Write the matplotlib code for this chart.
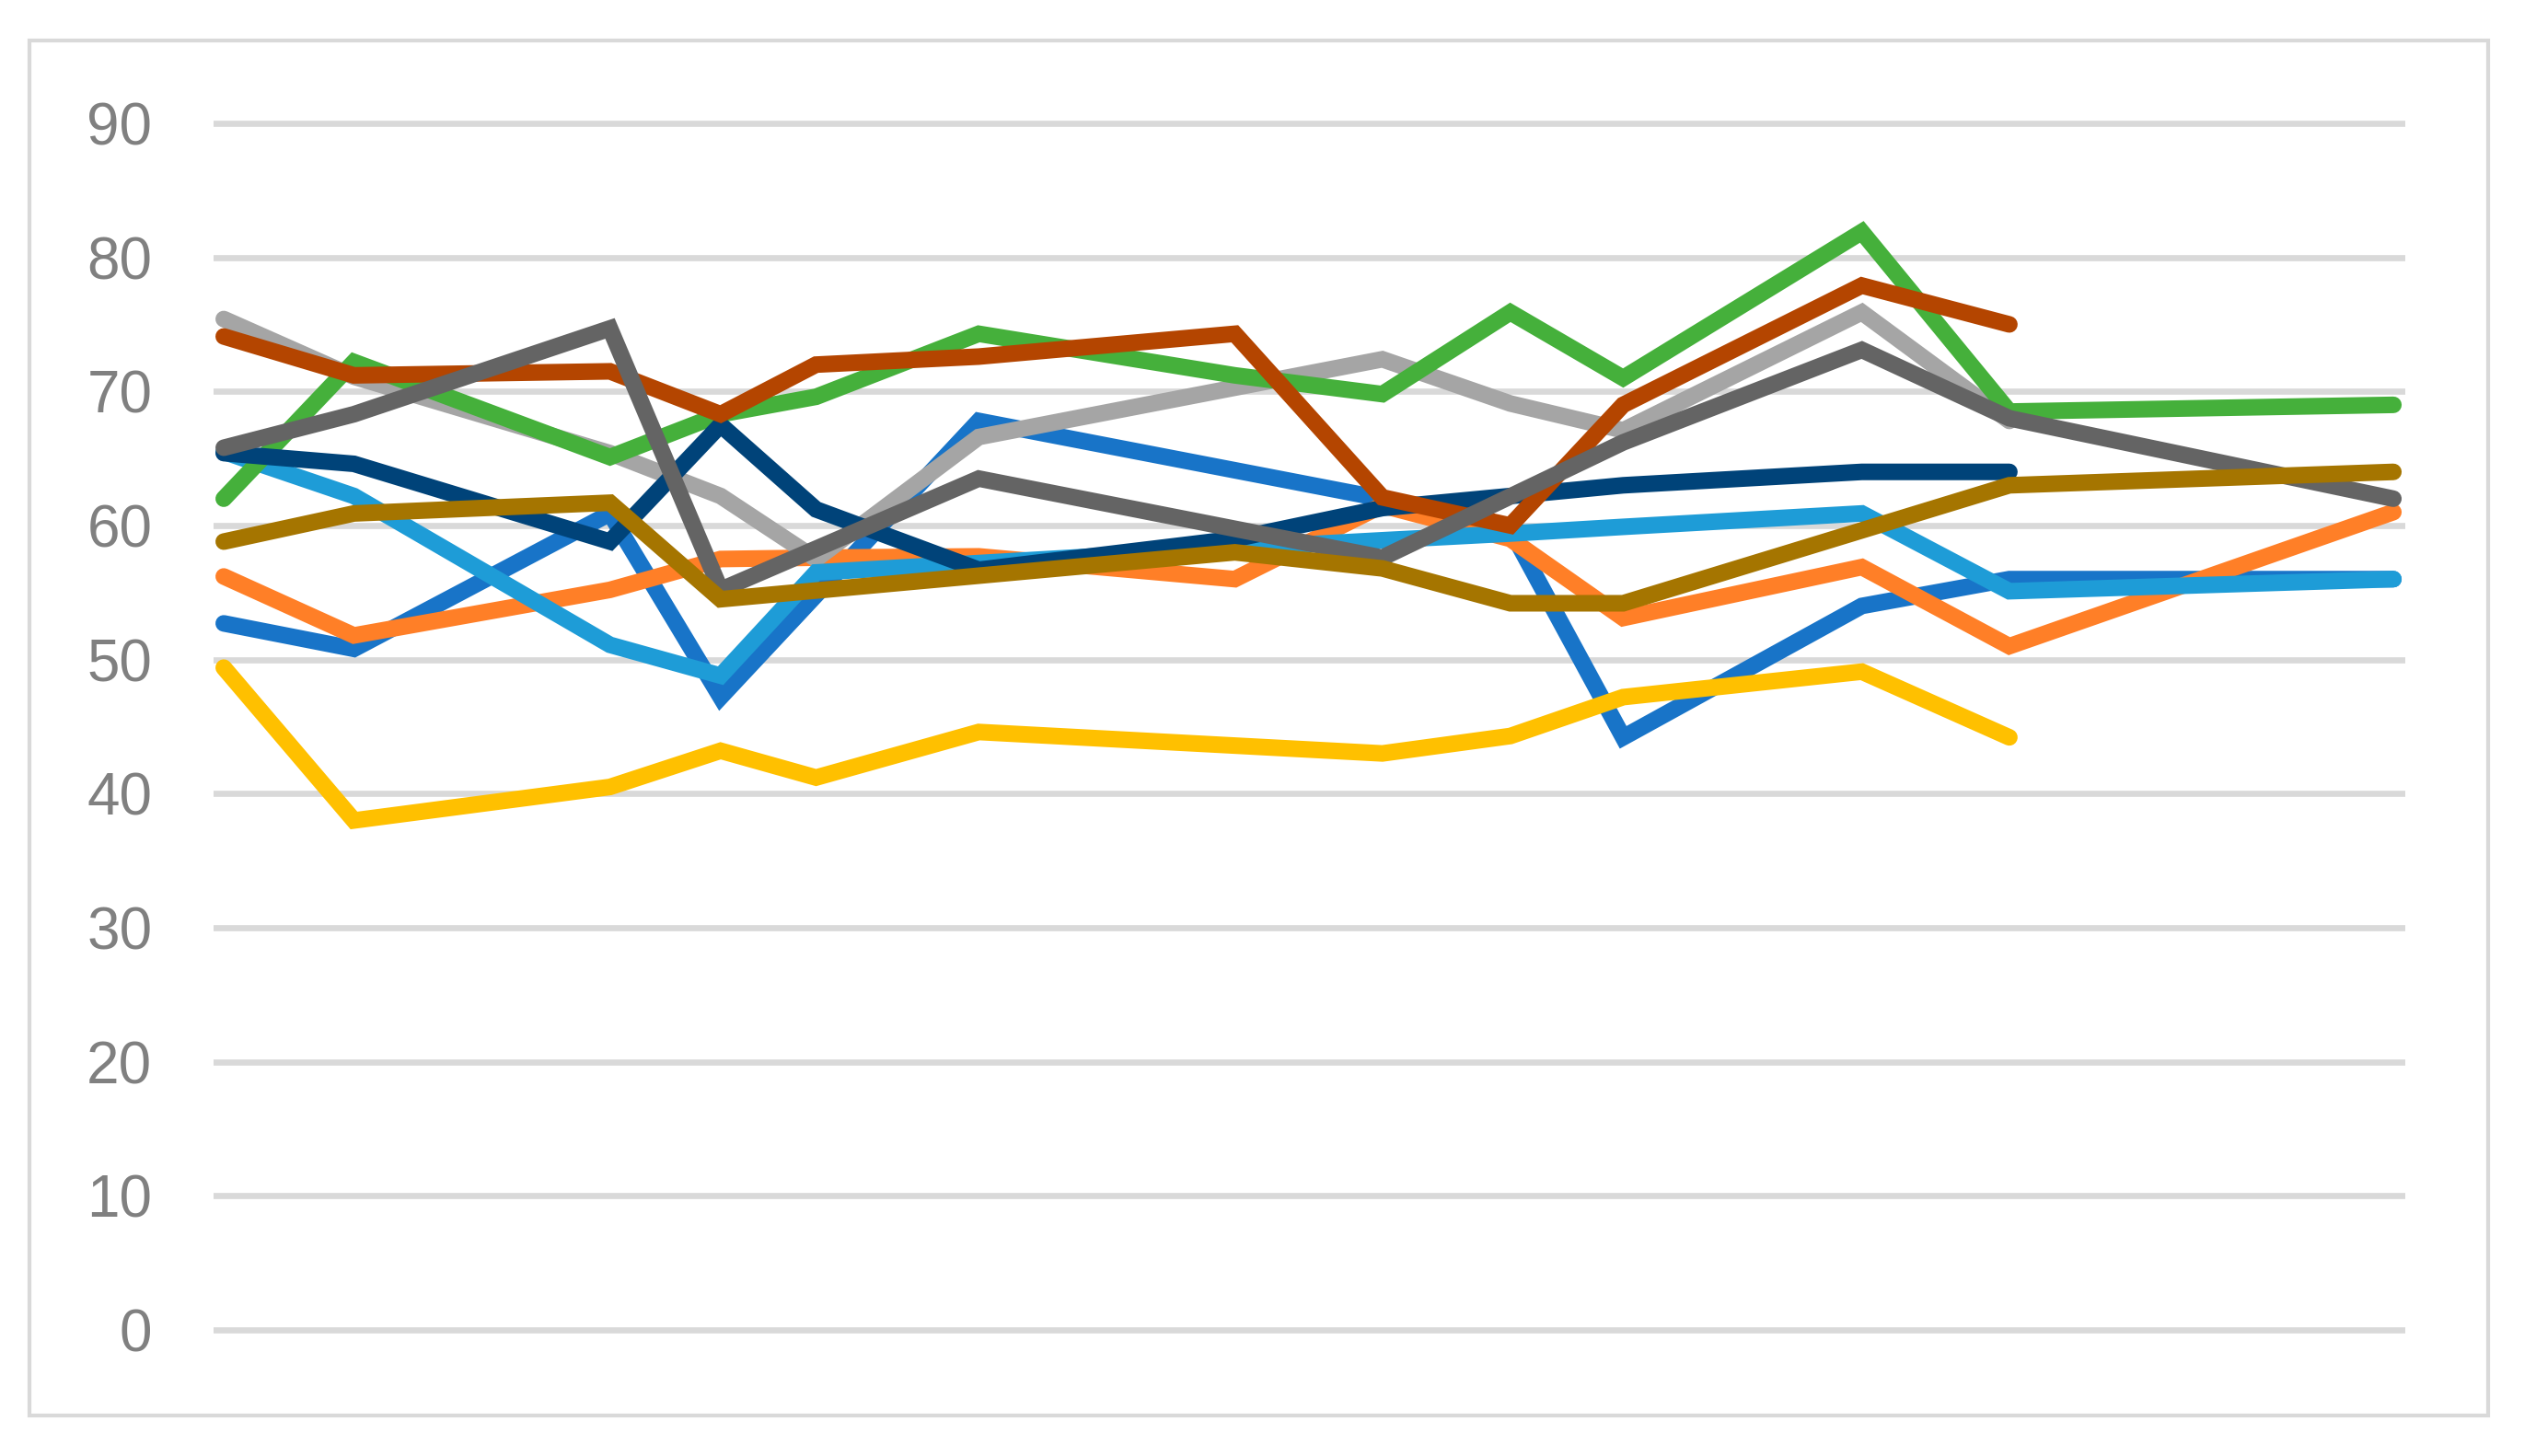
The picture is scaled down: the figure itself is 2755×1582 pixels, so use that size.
import numpy as np
import matplotlib
matplotlib.use("Agg")
import matplotlib.pyplot as plt
from matplotlib.patches import Rectangle

# sample positions along the (unlabelled) horizontal axis
x = [0, 6.0, 17.8, 22.9, 27.3, 34.8, 46.6, 53.4, 59.3, 64.5, 75.5, 82.3, 100]

N = None
blue       = [52.7, 50.8, 60.9, 47.2, N,    67.8, N,    62.0, 59.7, 44.2, 54.0, 56.0, 56.0]
orange     = [56.2, 51.8, 55.2, 57.5, 57.6, 57.7, 56.0, 61.5, 59.0, 53.1, 56.9, 51.0, 61.0]
light_gray = [75.4, 71.1, 65.4, 62.2, 57.5, 66.6, N,    72.4, 69.1, 67.1, 75.9, 67.8, N]
yellow     = [49.4, 38.0, 40.5, 43.2, 41.2, 44.6, N,    43.0, 44.3, 47.2, 49.1, 44.2, N]
light_blue = [65.5, 62.2, 51.1, 48.8, 56.5, 57.2, 58.3, 58.9, 59.4, 59.9, 60.9, 55.1, 56.0]
green      = [62.0, 72.2, 65.1, 68.3, 69.6, 74.3, 71.2, 69.8, 75.9, 71.0, 81.9, 68.5, 69.0]
navy       = [65.4, 64.6, 58.8, 67.5, 61.2, 56.7, 59.0, 61.3, 62.2, 63.0, 64.0, 64.0, N]
dark_orange = [74.1, 71.2, 71.5, 68.3, 72.0, 72.6, 74.3, 62.1, 60.0, 69.0, 77.9, 75.0, N]
dark_gray  = [65.8, 68.3, 74.7, 55.2, N,    63.5, N,    57.6, N,    66.2, 73.1, 68.0, 62.0]
olive      = [58.8, 60.9, 61.7, 54.5, N,    N,    58.0, 56.8, 54.2, 54.2, N,    63.0, 64.0]

series = [
    (blue, "#1874C8"),
    (orange, "#FF7F27"),
    (light_gray, "#A5A5A5"),
    (yellow, "#FFC000"),
    (light_blue, "#1E9CD7"),
    (green, "#45B03B"),
    (navy, "#004379"),
    (dark_orange, "#B44500"),
    (dark_gray, "#646464"),
    (olive, "#A57500"),
]

W, H = 2755, 1582
dpi = 200
fig = plt.figure(figsize=(W / dpi, H / dpi), dpi=dpi)
fig.patch.set_facecolor("white")

# chart frame
fig.patches.append(Rectangle((32 / W, 1 - 1538 / H), (2703 - 32) / W, (1538 - 44) / H,
                             transform=fig.transFigure, fill=False,
                             edgecolor="#D9D9D9", linewidth=1.5))

ax = fig.add_axes([232 / W, 1 - 1459.6 / H, (2613 - 232) / W, (1459.6 - 119.4) / H])
ax.set_xlim(-0.47, 100.55)
ax.set_ylim(-1, 91)

xs = np.array(x, dtype=float)
for vals, col in series:
    v = np.array([np.nan if a is None else a for a in vals], dtype=float)
    m = ~np.isnan(v)
    ax.plot(xs[m], v[m], color=col, linewidth=6.5,
            solid_capstyle="round", solid_joinstyle="miter")

ax.set_yticks(range(0, 91, 10))
ax.yaxis.grid(True, color="#D9D9D9", linewidth=2.4)
ax.set_axisbelow(True)
ax.set_xticks([])
for s in ax.spines.values():
    s.set_visible(False)
ax.tick_params(axis="y", length=0, pad=24, labelsize=23, labelcolor="#808080")
for lab in ax.get_yticklabels():
    lab.set_fontfamily("Liberation Sans")

fig.savefig("out.png", dpi=dpi)
